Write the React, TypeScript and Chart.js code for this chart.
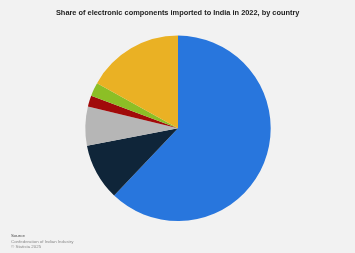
import React, { useEffect, useRef } from "react";
import { Chart, registerables } from "chart.js";

Chart.register(...registerables);

const countries = ["China", "Hong Kong", "South Korea", "Singapore", "Taiwan", "Others"];
const shares = [62.1, 9.9, 6.8, 1.9, 2.4, 16.9];
const colors = ["#2876dd", "#0f2539", "#b6b6b6", "#a10a0a", "#8cbf26", "#eab124"];
const titleText = "Share of electronic components imported to India in 2022, by country";
const sourceLines = ["Source", "Confederation of Indian Industry", "© Statista 2025"];

const BG = "#f2f2f2";

export default function App() {
  const ref = useRef<HTMLCanvasElement | null>(null);
  useEffect(() => {
    document.body.style.margin = "0";
    const textPlugin = {
      id: "texts",
      beforeDraw(chart: any) {
        const ctx = chart.ctx;
        ctx.save();
        ctx.fillStyle = BG;
        ctx.fillRect(0, 0, chart.width, chart.height);
        ctx.restore();
      },
      afterDraw(chart: any) {
        const ctx = chart.ctx;
        ctx.save();
        ctx.fillStyle = "#222222";
        ctx.font = "bold 7.4px 'Liberation Sans', Arial, sans-serif";
        ctx.textAlign = "center";
        ctx.textBaseline = "middle";
        ctx.fillText(titleText, 177.7, 13);
        ctx.textAlign = "left";
        ctx.font = "4.4px 'Liberation Sans', Arial, sans-serif";
        ctx.fillStyle = "#444444";
        ctx.fillText(sourceLines[0], 11, 235.7);
        ctx.fillStyle = "#8a8a8a";
        ctx.fillText(sourceLines[1], 11, 241.6);
        ctx.fillText(sourceLines[2], 11, 247.2);
        ctx.restore();
      },
    };
    const chart = new Chart(ref.current!, {
      type: "pie",
      data: {
        labels: countries,
        datasets: [
          {
            data: shares,
            backgroundColor: colors,
            borderWidth: 0,
          },
        ],
      },
      options: {
        animation: false,
        responsive: false,
        maintainAspectRatio: false,
        layout: { padding: { top: 35.6, bottom: 32, left: 85.3, right: 84.3 } },
        plugins: {
          legend: { display: false },
          tooltip: { enabled: false },
          title: { display: false },
        },
      },
      plugins: [textPlugin],
    });
    return () => chart.destroy();
  }, []);
  return (
    <div style={{ width: 355, height: 253, background: BG }}>
      <canvas ref={ref} width={355} height={253} style={{ display: "block" }} />
    </div>
  );
}
